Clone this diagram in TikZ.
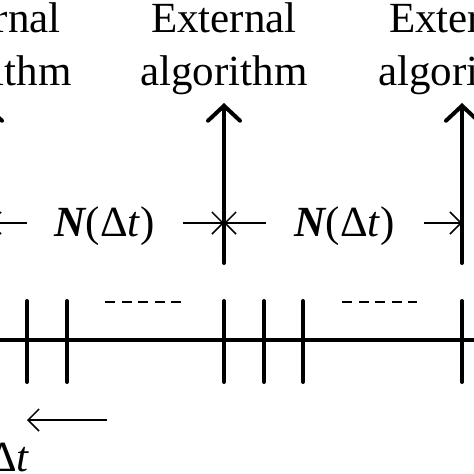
\documentclass[tikz,border=0pt]{standalone}
\usepackage{fontspec}
\setmainfont{Liberation Serif}
\usetikzlibrary{arrows.meta}
\begin{document}
\begin{tikzpicture}
[x=1pt,y=-1pt,%
  every node/.style={inner sep=0pt,font=\fontsize{43}{53}\selectfont},
  axis/.style={line width=4pt},
  tickmark/.style={line width=4pt,line cap=round},
  signal/.style={line width=4pt,line cap=round,-{Straight Barb[length=15pt,width=32pt,line cap=round]}},
  interval/.style={line width=1.5pt,-{Straight Barb[length=11pt,width=22pt]}},
  ellipsis/.style={line width=1.5pt,dash pattern=on 10pt off 6.5pt}]
\useasboundingbox (0,0) rectangle (474,474);
\coordinate (b0) at (-14,263);
\coordinate (b1) at (224,263);
\coordinate (b2) at (462,263);
\coordinate (t0) at (-14,103);
\coordinate (t1) at (224,103);
\coordinate (t2) at (462,103);
\coordinate (c0) at (-11,223);
\coordinate (c1) at (224,223);
\coordinate (c2) at (462,223);
\node (ext0) [anchor=base,align=center] at (-12,85) {External\\algorithm};
\node (ext1) [anchor=base,align=center] at (224,85) {External\\algorithm};
\node (ext2) [anchor=base,align=center] at (462,85) {External\\algorithm};
\draw[signal] (b0) -- (t0);
\draw[signal] (b1) -- (t1);
\draw[signal] (b2) -- (t2);
\node (n1) [anchor=base,inner xsep=28pt] at (105,236) {{\bfseries\itshape N}(Δ\textit{t})};
\node (n2) [anchor=base,inner xsep=29pt] at (345,236) {{\bfseries\itshape N}(Δ\textit{t})};
\draw[interval] (n1.west |- c0) -- (c0);
\draw[interval] (n1.east |- c1) -- (c1);
\draw[interval] (n2.west |- c1) -- (c1);
\draw[interval] (n2.east |- c2) -- (c2);
\coordinate (l0) at (0,340);
\coordinate (l1) at (474,340);
\draw[axis] (l0) -- (l1);
\foreach \x in {-14,27,67,224,264,303,462}
  \draw[tickmark] (\x,301) -- (\x,382);
\coordinate (d1) at (105,302);
\coordinate (d2) at (181,302);
\coordinate (d3) at (342,302);
\coordinate (d4) at (417,302);
\draw[ellipsis] (d1) -- (d2);
\draw[ellipsis] (d3) -- (d4);
\coordinate (s0) at (107,420);
\coordinate (s1) at (27,420);
\draw[interval] (s0) -- (s1);
\node (dt) [anchor=base east] at (30,471) {Δ\textit{t}};
\end{tikzpicture}
\end{document}
